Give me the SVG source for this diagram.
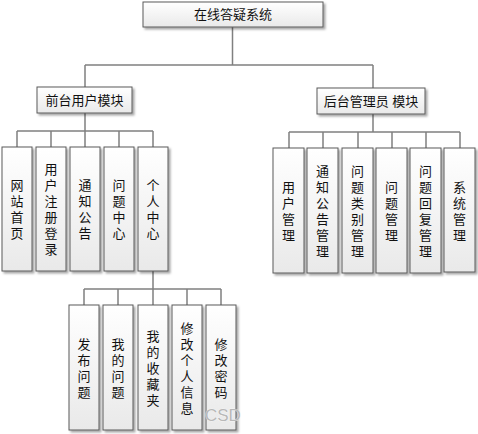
<svg xmlns="http://www.w3.org/2000/svg" width="478" height="434" viewBox="0 0 478 434">
<style>
.box{fill:url(#g);stroke:#5a5a5a;stroke-width:1;filter:url(#sh)}
.t{font-family:"Liberation Sans","Noto Sans CJK SC",sans-serif;font-size:13px;fill:#111;text-anchor:middle;dominant-baseline:central}
.c{fill:none;stroke:#808080;stroke-width:1.5}
</style>
<defs>
<linearGradient id="g" x1="0" y1="0" x2="0" y2="1">
<stop offset="0" stop-color="#ffffff"/>
<stop offset="1" stop-color="#e9e9e9"/>
</linearGradient>
<filter id="sh" x="-20%" y="-20%" width="150%" height="150%">
<feDropShadow dx="2" dy="2" stdDeviation="0.8" flood-color="#000" flood-opacity="0.35"/>
</filter>
</defs>
<rect width="478" height="434" fill="#fff"/>
<g id="connectors" class="c">
<path d="M232.5 27V65M85 65H373M85 65V87M373 65V88"/>
<path d="M85 113V131M17 131H153M17 131V147M51 131V147M85 131V147M119 131V147M153 131V147"/>
<path d="M153 271V289M84 289H221M84 289V305M118 289V305M153 289V305M187 289V305M221 289V305"/>
<path d="M373 114V132M289 132H460M289 132V148M323 132V148M358 132V148M392 132V148M426 132V148M460 132V148"/>
</g>
<g id="root"><rect class="box" x="143" y="2" width="180" height="25"/><text class="t" x="233" y="14.5">在线答疑系统</text></g>
<g id="front"><rect class="box" x="37" y="87" width="95" height="26"/><text class="t" x="84.5" y="100">前台用户模块</text></g>
<g id="back"><rect class="box" x="317" y="88" width="108" height="26"/><text class="t" x="371" y="101">后台管理员 模块</text></g>

<g id="f1"><rect class="box" x="2" y="147" width="30" height="124"/><text class="t"><tspan x="17" y="185">网</tspan><tspan x="17" dy="16">站</tspan><tspan x="17" dy="16">首</tspan><tspan x="17" dy="16">页</tspan></text></g>
<g id="f2"><rect class="box" x="36" y="147" width="30" height="124"/><text class="t"><tspan x="51" y="169">用</tspan><tspan x="51" dy="16">户</tspan><tspan x="51" dy="16">注</tspan><tspan x="51" dy="16">册</tspan><tspan x="51" dy="16">登</tspan><tspan x="51" dy="16">录</tspan></text></g>
<g id="f3"><rect class="box" x="70" y="147" width="30" height="124"/><text class="t"><tspan x="85" y="185">通</tspan><tspan x="85" dy="16">知</tspan><tspan x="85" dy="16">公</tspan><tspan x="85" dy="16">告</tspan></text></g>
<g id="f4"><rect class="box" x="104" y="147" width="30" height="124"/><text class="t"><tspan x="119" y="185">问</tspan><tspan x="119" dy="16">题</tspan><tspan x="119" dy="16">中</tspan><tspan x="119" dy="16">心</tspan></text></g>
<g id="f5"><rect class="box" x="138" y="147" width="30" height="124"/><text class="t"><tspan x="153" y="185">个</tspan><tspan x="153" dy="16">人</tspan><tspan x="153" dy="16">中</tspan><tspan x="153" dy="16">心</tspan></text></g>

<g id="s1"><rect class="box" x="69" y="305" width="30" height="125"/><text class="t"><tspan x="84" y="343.5">发</tspan><tspan x="84" dy="16">布</tspan><tspan x="84" dy="16">问</tspan><tspan x="84" dy="16">题</tspan></text></g>
<g id="s2"><rect class="box" x="103" y="305" width="30" height="125"/><text class="t"><tspan x="118" y="343.5">我</tspan><tspan x="118" dy="16">的</tspan><tspan x="118" dy="16">问</tspan><tspan x="118" dy="16">题</tspan></text></g>
<g id="s3"><rect class="box" x="138" y="305" width="30" height="125"/><text class="t"><tspan x="153" y="335.5">我</tspan><tspan x="153" dy="16">的</tspan><tspan x="153" dy="16">收</tspan><tspan x="153" dy="16">藏</tspan><tspan x="153" dy="16">夹</tspan></text></g>
<g id="s4"><rect class="box" x="172" y="305" width="30" height="125"/><text class="t"><tspan x="187" y="327.5">修</tspan><tspan x="187" dy="16">改</tspan><tspan x="187" dy="16">个</tspan><tspan x="187" dy="16">人</tspan><tspan x="187" dy="16">信</tspan><tspan x="187" dy="16">息</tspan></text></g>
<g id="s5"><rect class="box" x="206" y="305" width="30" height="125"/><text class="t"><tspan x="221" y="343.5">修</tspan><tspan x="221" dy="16">改</tspan><tspan x="221" dy="16">密</tspan><tspan x="221" dy="16">码</tspan></text></g>

<g id="b1"><rect class="box" x="273" y="148" width="31" height="125"/><text class="t"><tspan x="288.5" y="186.5">用</tspan><tspan x="288.5" dy="16">户</tspan><tspan x="288.5" dy="16">管</tspan><tspan x="288.5" dy="16">理</tspan></text></g>
<g id="b2"><rect class="box" x="307" y="148" width="31" height="125"/><text class="t"><tspan x="322.5" y="170.5">通</tspan><tspan x="322.5" dy="16">知</tspan><tspan x="322.5" dy="16">公</tspan><tspan x="322.5" dy="16">告</tspan><tspan x="322.5" dy="16">管</tspan><tspan x="322.5" dy="16">理</tspan></text></g>
<g id="b3"><rect class="box" x="342" y="148" width="31" height="125"/><text class="t"><tspan x="357.5" y="170.5">问</tspan><tspan x="357.5" dy="16">题</tspan><tspan x="357.5" dy="16">类</tspan><tspan x="357.5" dy="16">别</tspan><tspan x="357.5" dy="16">管</tspan><tspan x="357.5" dy="16">理</tspan></text></g>
<g id="b4"><rect class="box" x="376" y="148" width="31" height="125"/><text class="t"><tspan x="391.5" y="186.5">问</tspan><tspan x="391.5" dy="16">题</tspan><tspan x="391.5" dy="16">管</tspan><tspan x="391.5" dy="16">理</tspan></text></g>
<g id="b5"><rect class="box" x="410" y="148" width="31" height="125"/><text class="t"><tspan x="425.5" y="170.5">问</tspan><tspan x="425.5" dy="16">题</tspan><tspan x="425.5" dy="16">回</tspan><tspan x="425.5" dy="16">复</tspan><tspan x="425.5" dy="16">管</tspan><tspan x="425.5" dy="16">理</tspan></text></g>
<g id="b6"><rect class="box" x="444" y="148" width="31" height="124"/><text class="t"><tspan x="459.5" y="186.5">系</tspan><tspan x="459.5" dy="16">统</tspan><tspan x="459.5" dy="16">管</tspan><tspan x="459.5" dy="16">理</tspan></text></g>

<text x="205" y="421" font-family="Liberation Sans, sans-serif" font-size="17" fill="#b8b8b8" stroke="#ffffff" stroke-width="0.6" paint-order="stroke">CSD</text>
</svg>
